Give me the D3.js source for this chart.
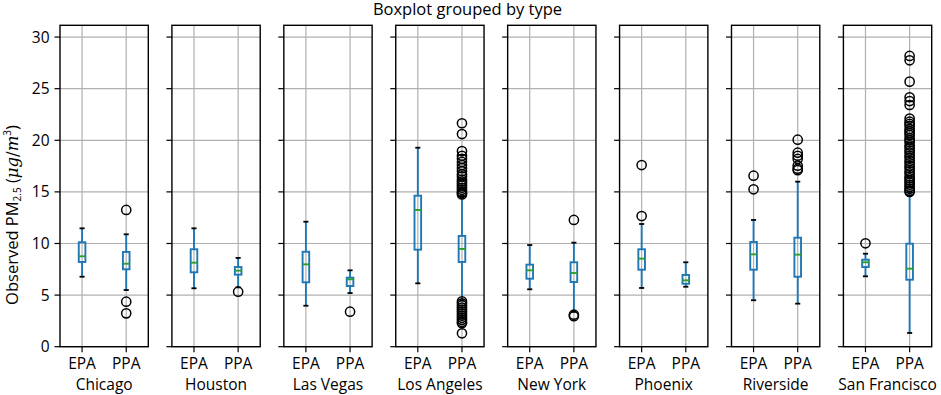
<!DOCTYPE html>
<html>
<head>
<meta charset="utf-8">
<script src="https://cdn.jsdelivr.net/npm/d3@7"></script>
<style>
  body { margin: 0; background: #fff; }
  text { font-family: "Open Sans", sans-serif; fill: #000; }
</style>
</head>
<body>
<div id="chart"></div>
<script>
// categories
var cities = ["Chicago", "Houston", "Las Vegas", "Los Angeles", "New York", "Phoenix", "Riverside", "San Francisco"];
var types = ["EPA", "PPA"];
var yTicks = [0, 5, 10, 15, 20, 25, 30];

// box stats per city, [EPA, PPA]
var whiskerLo = [[6.78, 5.49], [5.66, 5.75], [3.97, 5.2], [6.14, 4.5], [5.56, 3.4], [5.69, 5.81], [4.5, 4.17], [6.82, 1.33]];
var q1 = [[8.21, 7.5], [7.21, 6.98], [6.24, 5.88], [9.4, 8.21], [6.59, 6.27], [7.46, 6.1], [7.46, 6.78], [7.72, 6.49]];
var med = [[8.76, 8.04], [8.14, 7.37], [7.98, 6.53], [13.25, 9.47], [7.4, 7.14], [8.53, 6.43], [8.95, 8.92], [8.18, 7.56]];
var q3 = [[10.12, 9.18], [9.44, 7.72], [9.2, 6.69], [14.63, 10.73], [7.95, 8.18], [9.44, 6.95], [10.15, 10.56], [8.43, 9.98]];
var whiskerHi = [[11.47, 10.89], [11.47, 8.6], [12.11, 7.4], [19.28, 14.6], [9.85, 10.08], [11.89, 8.18], [12.28, 15.99], [9.01, 15.0]];

// fliers per city, [EPA, PPA]
var fliers = [
  [[], [13.25, 4.36, 3.23]],
  [[], [5.33]],
  [[], [3.39]],
  [[], [21.65, 20.6, 18.95, 18.5, 18.2, 17.9, 17.6, 17.3, 17.0, 16.7, 16.5, 16.2, 16.0, 15.8, 15.6, 15.4, 15.2, 15.0, 14.9, 14.75,
        4.4, 4.2, 4.0, 3.8, 3.6, 3.4, 3.2, 3.0, 2.8, 2.6, 2.4, 2.27, 1.3]],
  [[], [12.28, 3.1, 2.95]],
  [[17.6, 12.66], []],
  [[16.57, 15.25], [20.06, 18.8, 18.5, 18.2, 17.54, 17.25, 17.1]],
  [[10.02], [28.17, 27.75, 25.68, 24.17, 23.8, 23.42, 22.1, 21.8, 21.6, 21.4, 21.1, 20.9, 20.7, 20.5, 20.2, 20.0, 19.8, 19.5,
        19.3, 19.0, 18.8, 18.5, 18.3, 18.0, 17.8, 17.5, 17.3, 17.0, 16.8, 16.5, 16.3, 16.1, 15.9, 15.7, 15.5, 15.3, 15.1, 15.0]]
];

var W = 941, H = 395;
var plotTop = 25.3, plotBottom = 346.7;

var svg = d3.select("#chart").append("svg")
  .attr("width", W)
  .attr("height", H);

var panel = d3.scaleBand().domain(cities).range([60, 931.7]).paddingInner(0.211);
var y = d3.scaleLinear().domain([0, 31.14]).range([plotBottom, plotTop]);
var x = d3.scaleLinear().domain([0.5, 2.5]).range([0, panel.bandwidth()]);

var blue = "#1f77b4", green = "#2ca02c";
var boxW = x(0.15) - x(0);
var capW = x(0.075) - x(0);

svg.append("text")
  .attr("x", 467.5)
  .attr("y", 15)
  .attr("text-anchor", "middle")
  .style("font-size", "16.5px")
  .text("Boxplot grouped by type");

// y label
var yl = svg.append("text")
  .attr("transform", "translate(18,215) rotate(-90)")
  .attr("text-anchor", "middle")
  .style("font-size", "16.5px");
yl.append("tspan").text("Observed PM");
yl.append("tspan").attr("dy", 3).style("font-size", "10px").text("2.5");
yl.append("tspan").attr("dy", -3).text(" (");
yl.append("tspan").style("font-style", "italic").style("font-family", "DejaVu Serif").text("\u03bcg");
yl.append("tspan").style("font-family", "DejaVu Serif").text("/");
yl.append("tspan").style("font-style", "italic").style("font-family", "DejaVu Serif").text("m");
yl.append("tspan").attr("dy", -7).style("font-size", "10px").text("3");
yl.append("tspan").attr("dy", 7).text(")");

cities.forEach(function(c, ci) {
  var g = svg.append("g").attr("transform", "translate(" + panel(c) + ",0)");
  var pw = panel.bandwidth();

  // grid
  g.selectAll(".hg").data(yTicks).enter().append("line")
    .attr("x1", 0).attr("x2", pw)
    .attr("y1", function(d) { return y(d); })
    .attr("y2", function(d) { return y(d); })
    .attr("stroke", "#b0b0b0").attr("stroke-width", 1.2);
  g.selectAll(".vg").data([1, 2]).enter().append("line")
    .attr("x1", function(d) { return x(d); })
    .attr("x2", function(d) { return x(d); })
    .attr("y1", plotTop).attr("y2", plotBottom)
    .attr("stroke", "#b0b0b0").attr("stroke-width", 1.2);

  // y ticks
  g.selectAll(".yt").data(yTicks).enter().append("line")
    .attr("x1", -5.5).attr("x2", 0)
    .attr("y1", function(d) { return y(d); })
    .attr("y2", function(d) { return y(d); })
    .attr("stroke", "#000").attr("stroke-width", 1.2);
  if (ci == 0) {
    g.selectAll(".yl").data(yTicks).enter().append("text")
      .attr("x", -10.5)
      .attr("y", function(d) { return y(d); })
      .attr("dy", "0.36em")
      .attr("text-anchor", "end")
      .style("font-size", "15.5px")
      .text(function(d) { return d; });
  }

  types.forEach(function(t, ti) {
    var cx = x(ti + 1);
    // x tick
    g.append("line")
      .attr("x1", cx).attr("x2", cx)
      .attr("y1", plotBottom).attr("y2", plotBottom + 5.5)
      .attr("stroke", "#000").attr("stroke-width", 1.2);
    g.append("text")
      .attr("x", cx).attr("y", 369)
      .attr("text-anchor", "middle")
      .style("font-size", "15.5px")
      .text(t);

    // whiskers
    g.append("line")
      .attr("x1", cx).attr("x2", cx)
      .attr("y1", y(whiskerLo[ci][ti])).attr("y2", y(q1[ci][ti]))
      .attr("stroke", blue).attr("stroke-width", 1.9);
    g.append("line")
      .attr("x1", cx).attr("x2", cx)
      .attr("y1", y(q3[ci][ti])).attr("y2", y(whiskerHi[ci][ti]))
      .attr("stroke", blue).attr("stroke-width", 1.9);
    // caps
    [whiskerLo[ci][ti], whiskerHi[ci][ti]].forEach(function(v) {
      g.append("line")
        .attr("x1", cx - capW / 2).attr("x2", cx + capW / 2)
        .attr("y1", y(v)).attr("y2", y(v))
        .attr("stroke", "#000").attr("stroke-width", 1.8)
        .attr("stroke-linecap", "square");
    });
    // box
    g.append("rect")
      .attr("x", cx - boxW / 2)
      .attr("y", y(q3[ci][ti]))
      .attr("width", boxW)
      .attr("height", y(q1[ci][ti]) - y(q3[ci][ti]))
      .attr("fill", "none")
      .attr("stroke", blue).attr("stroke-width", 1.9);
    g.append("line")
      .attr("x1", cx - boxW / 2).attr("x2", cx + boxW / 2)
      .attr("y1", y(med[ci][ti])).attr("y2", y(med[ci][ti]))
      .attr("stroke", green).attr("stroke-width", 1.9);
    // fliers
    g.selectAll(".f" + ti).data(fliers[ci][ti]).enter().append("circle")
      .attr("cx", cx)
      .attr("cy", function(d) { return y(d); })
      .attr("r", 4.6)
      .attr("fill", "none")
      .attr("stroke", "#000").attr("stroke-width", 1.5);
  });

  // frame
  g.append("rect")
    .attr("x", 0).attr("y", plotTop)
    .attr("width", pw).attr("height", plotBottom - plotTop)
    .attr("fill", "none")
    .attr("stroke", "#000").attr("stroke-width", 1.4);

  g.append("text")
    .attr("x", pw / 2).attr("y", 390)
    .attr("text-anchor", "middle")
    .style("font-size", "15.5px")
    .text(c);
});
</script>
</body>
</html>
